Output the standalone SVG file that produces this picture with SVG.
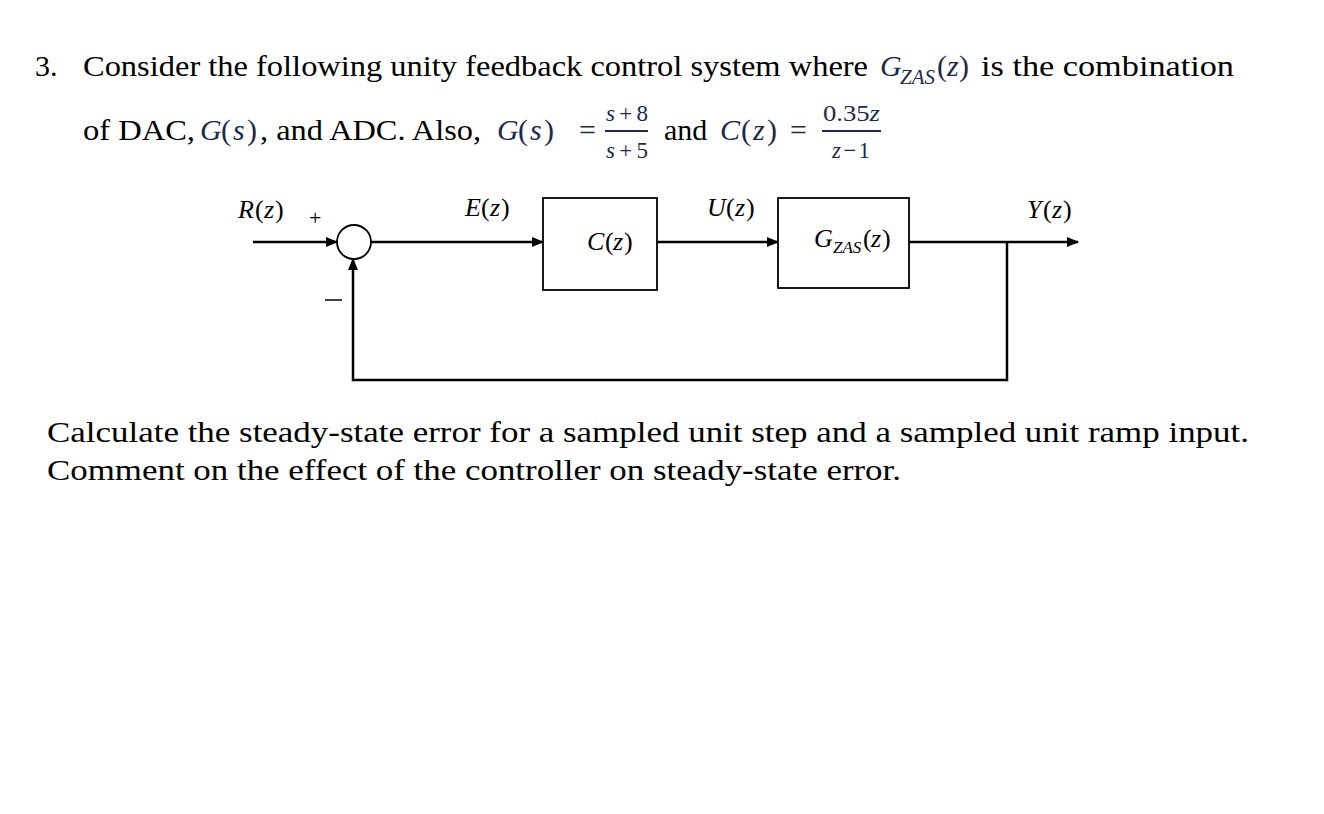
<svg xmlns="http://www.w3.org/2000/svg" width="1324" height="814" viewBox="0 0 1324 814">
<defs>
<style>
.t{font-family:"Liberation Serif","Times New Roman",serif;font-size:30px;fill:#000}
.m{font-family:"Liberation Serif","Times New Roman",serif;font-style:italic;font-size:30px;fill:#1c2a48}
.mn{font-family:"Liberation Serif","Times New Roman",serif;font-size:30px;fill:#1c2a48}
.ms{font-family:"Liberation Serif","Times New Roman",serif;font-style:italic;font-size:21px;fill:#1c2a48}
.fr{font-family:"Liberation Serif","Times New Roman",serif;font-size:23px;fill:#1c2a48}
.fi{font-style:italic}
.lb{font-family:"Liberation Serif","Times New Roman",serif;font-style:italic;font-size:26px;fill:#000}
.lp{font-family:"Liberation Serif","Times New Roman",serif;font-size:26px;fill:#000}
.lsub{font-family:"Liberation Serif","Times New Roman",serif;font-style:italic;font-size:17px;fill:#000}
.pl{font-family:"Liberation Serif","Times New Roman",serif;font-size:22px;fill:#000}
.ln{stroke:#000;stroke-width:2.5;fill:none}
.bx{stroke:#000;stroke-width:1.8;fill:#fff}
</style>
<marker id="ah" markerWidth="12" markerHeight="10" refX="11" refY="5" orient="auto" markerUnits="userSpaceOnUse">
<path d="M0,0 L12,5 L0,10 z" fill="#000"/>
</marker>
</defs>
<rect width="1324" height="814" fill="#fff"/>

<!-- Problem statement -->
<g id="statement">
<text class="t" x="35" y="76">3.</text>
<text class="t" x="83" y="76" textLength="785" lengthAdjust="spacingAndGlyphs">Consider the following unity feedback control system where</text>
<text class="m" x="880" y="76">G</text>
<text class="ms" x="900" y="84">ZAS</text>
<text class="mn" x="937" y="76">(</text><text class="m" x="947" y="76">z</text><text class="mn" x="959" y="76">)</text>
<text class="t" x="981" y="76" textLength="253" lengthAdjust="spacingAndGlyphs">is the combination</text>

<text class="t" x="83" y="140" textLength="112" lengthAdjust="spacingAndGlyphs">of DAC,</text>
<text class="m" x="200" y="140">G</text><text class="mn" x="221" y="140">(</text><text class="m" x="233" y="140">s</text><text class="mn" x="247" y="140">)</text>
<text class="t" x="260" y="140" textLength="221" lengthAdjust="spacingAndGlyphs">, and ADC. Also,</text>
<text class="m" x="497" y="140">G</text><text class="mn" x="518" y="140">(</text><text class="m" x="530" y="140">s</text><text class="mn" x="544" y="140">)</text>
<text class="mn" x="579" y="140">=</text>
<text class="fr" x="606" y="121" textLength="42" lengthAdjust="spacing"><tspan class="fi">s</tspan>+8</text>
<line x1="605" y1="131" x2="648" y2="131" stroke="#1c2a48" stroke-width="1.8"/>
<text class="fr" x="606" y="158" textLength="42" lengthAdjust="spacing"><tspan class="fi">s</tspan>+5</text>
<text class="t" x="664" y="140">and</text>
<text class="m" x="720" y="140">C</text><text class="mn" x="741" y="140">(</text><text class="m" x="753" y="140">z</text><text class="mn" x="767" y="140">)</text>
<text class="mn" x="790" y="140">=</text>
<text class="fr" x="823" y="121" textLength="57" lengthAdjust="spacingAndGlyphs">0.35<tspan class="fi">z</tspan></text>
<line x1="822" y1="131" x2="881" y2="131" stroke="#1c2a48" stroke-width="1.8"/>
<text class="fr" x="832" y="158" textLength="38" lengthAdjust="spacing"><tspan class="fi">z</tspan>−1</text>
</g>

<!-- Connectors -->
<g id="connectors">
<line class="ln" x1="253" y1="242" x2="337" y2="242" marker-end="url(#ah)"/>
<line class="ln" x1="371" y1="242" x2="543" y2="242" marker-end="url(#ah)"/>
<line class="ln" x1="657" y1="242" x2="778" y2="242" marker-end="url(#ah)"/>
<line class="ln" x1="909" y1="242" x2="1078" y2="242" marker-end="url(#ah)"/>
<polyline class="ln" points="1007,242 1007,380 353,380 353,259" marker-end="url(#ah)"/>
</g>

<!-- Summing junction -->
<g id="sum">
<circle cx="354" cy="242" r="17" fill="#fff" stroke="#000" stroke-width="1.8"/>
<text class="pl" x="309" y="225">+</text>
<line x1="325" y1="300" x2="342" y2="300" stroke="#000" stroke-width="1.5"/>
</g>

<!-- Blocks -->
<g id="block-C">
<rect class="bx" x="543" y="198" width="114" height="92"/>
<text class="lb" x="587" y="250">C</text><text class="lp" x="605" y="250">(</text><text class="lb" x="613" y="250">z</text><text class="lp" x="624" y="250">)</text>
</g>
<g id="block-G">
<rect class="bx" x="778" y="198" width="131" height="90"/>
<text class="lb" x="814" y="247">G</text><text class="lsub" x="833" y="253">ZAS</text><text class="lp" x="863" y="247">(</text><text class="lb" x="871" y="247">z</text><text class="lp" x="882" y="247">)</text>
</g>

<!-- Signal labels -->
<g id="labels">
<text class="lb" x="238" y="218">R</text><text class="lp" x="255" y="218">(</text><text class="lb" x="264" y="218">z</text><text class="lp" x="275" y="218">)</text>
<text class="lb" x="465" y="216">E</text><text class="lp" x="481" y="216">(</text><text class="lb" x="490" y="216">z</text><text class="lp" x="501" y="216">)</text>
<text class="lb" x="707" y="216">U</text><text class="lp" x="726" y="216">(</text><text class="lb" x="735" y="216">z</text><text class="lp" x="746" y="216">)</text>
<text class="lb" x="1027" y="218">Y</text><text class="lp" x="1043" y="218">(</text><text class="lb" x="1052" y="218">z</text><text class="lp" x="1063" y="218">)</text>
</g>

<!-- Question text -->
<g id="question">
<text class="t" x="47" y="442" textLength="1202" lengthAdjust="spacingAndGlyphs">Calculate the steady-state error for a sampled unit step and a sampled unit ramp input.</text>
<text class="t" x="47" y="480" textLength="854" lengthAdjust="spacingAndGlyphs">Comment on the effect of the controller on steady-state error.</text>
</g>
</svg>
